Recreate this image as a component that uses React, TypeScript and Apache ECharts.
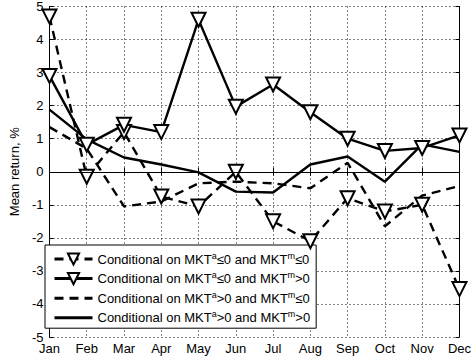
import React, { useEffect, useRef } from "react";
import * as echarts from "echarts";

const months = ["Jan", "Feb", "Mar", "Apr", "May", "Jun", "Jul", "Aug", "Sep", "Oct", "Nov", "Dec"];

// Conditional on MKT^a<=0 and MKT^m<=0 (dashed, triangles)
const aNegMNeg = [4.7, -0.15, 1.2, -0.75, -1.05, 0.0, -1.5, -2.1, -0.8, -1.2, -1.0, -3.55];
// Conditional on MKT^a<=0 and MKT^m>0 (solid, triangles)
const aNegMPos = [2.9, 0.82, 1.42, 1.2, 4.6, 1.97, 2.64, 1.8, 1.0, 0.63, 0.72, 1.1];
// Conditional on MKT^a>0 and MKT^m<=0 (dashed)
const aPosMNeg = [1.35, 0.7, -1.05, -0.9, -0.35, -0.3, -0.35, -0.5, 0.27, -1.65, -0.72, -0.43];
// Conditional on MKT^a>0 and MKT^m>0 (solid)
const aPosMPos = [1.88, 0.98, 0.43, 0.22, -0.02, -0.6, -0.63, 0.22, 0.46, -0.3, 0.83, 0.6];

const seriesKeys = ["s1", "s2", "s3", "s4"];
const legendLabels: Record<string, [string, string]> = {
  s1: ["≤0", "≤0"],
  s2: ["≤0", ">0"],
  s3: [">0", "≤0"],
  s4: [">0", ">0"],
};

export default function App() {
  const ref = useRef<HTMLDivElement>(null);
  useEffect(() => {
    if (!ref.current) return;
    const chart = echarts.init(ref.current, null, { renderer: "svg" });
    const font = "'Liberation Sans', Arial, sans-serif";
    const dash = [9, 6];
    const markerStyle = { color: "#fff", borderColor: "#000", borderWidth: 2 };
    const mk = (key: string, data: number[], dashed: boolean, marker: boolean) => ({
      name: key,
      type: "line",
      data,
      xAxisIndex: 0,
      yAxisIndex: 0,
      symbol: marker ? "triangle" : "none",
      symbolRotate: 180,
      symbolSize: 14,
      showSymbol: marker,
      itemStyle: marker ? markerStyle : { color: "#000" },
      lineStyle: { color: "#000", width: 2.4, type: dashed ? dash : "solid" },
      z: marker ? 4 : 3,
    });
    chart.setOption({
      animation: false,
      backgroundColor: "#fff",
      textStyle: { fontFamily: font, color: "#000" },
      grid: { left: 40, right: 12, top: 6, bottom: 21, containLabel: false },
      xAxis: [
        {
          type: "category",
          data: months,
          boundaryGap: false,
          position: "bottom",
          axisLine: { show: true, lineStyle: { color: "#000", width: 1 } },
          axisTick: { show: true, inside: true, length: 4, lineStyle: { color: "#000" } },
          axisLabel: { color: "#000", fontSize: 13, fontFamily: font, margin: 5 },
          splitLine: { show: true, lineStyle: { color: "#000", type: [1, 3], width: 1 } },
        },
        {
          type: "category",
          data: months,
          boundaryGap: false,
          position: "top",
          axisLine: { show: true, lineStyle: { color: "#000", width: 1 } },
          axisTick: { show: true, inside: true, length: 4, lineStyle: { color: "#000" } },
          axisLabel: { show: false },
          splitLine: { show: false },
        },
      ],
      yAxis: [
        {
          type: "value",
          min: -5,
          max: 5,
          interval: 1,
          position: "left",
          name: "Mean return, %",
          nameLocation: "middle",
          nameGap: 26,
          nameTextStyle: { color: "#000", fontSize: 13, fontFamily: font },
          axisLine: { show: true, onZero: false, lineStyle: { color: "#000", width: 1 } },
          axisTick: { show: true, inside: true, length: 4, lineStyle: { color: "#000" } },
          axisLabel: { color: "#000", fontSize: 13, fontFamily: font, margin: 6 },
          splitLine: { show: true, lineStyle: { color: "#000", type: [1, 3], width: 1 } },
        },
        {
          type: "value",
          min: -5,
          max: 5,
          interval: 1,
          position: "right",
          axisLine: { show: true, onZero: false, lineStyle: { color: "#000", width: 1 } },
          axisTick: { show: true, inside: true, length: 4, lineStyle: { color: "#000" } },
          axisLabel: { show: false },
          splitLine: { show: false },
        },
      ],
      legend: {
        orient: "vertical",
        left: 45,
        top: 245,
        padding: [6, 6, 4, 8],
        itemGap: 5,
        itemWidth: 38,
        itemHeight: 14,
        backgroundColor: "#fff",
        borderColor: "#000",
        borderWidth: 1,
        borderRadius: 0,
        lineStyle: { width: 3 },
        data: [
          { name: "s1" },
          { name: "s2" },
          { name: "s3", itemStyle: { opacity: 0 } },
          { name: "s4", itemStyle: { opacity: 0 } },
        ],
        formatter: (name: string) => {
          const [a, m] = legendLabels[name];
          return `{n|Conditional on MKT}{s|a}{n|${a} and MKT}{s|m}{n|${m}}`;
        },
        textStyle: {
          color: "#000",
          fontFamily: font,
          fontSize: 13,
          rich: {
            n: { fontSize: 13, fontFamily: font, color: "#000" },
            s: { fontSize: 9, fontFamily: font, color: "#000", padding: [0, 0, 7, 0] },
          },
        },
      },
      series: [
        mk(seriesKeys[0], aNegMNeg, true, true),
        mk(seriesKeys[1], aNegMPos, false, true),
        mk(seriesKeys[2], aPosMNeg, true, false),
        {
          ...mk(seriesKeys[3], aPosMPos, false, false),
          markLine: {
            silent: true,
            symbol: "none",
            label: { show: false },
            lineStyle: { color: "#000", width: 1, type: "solid" },
            data: [{ yAxis: 0 }],
          },
        },
      ],
    });
    return () => chart.dispose();
  }, []);
  return (
    <div
      ref={ref}
      style={{ position: "fixed", left: 0, top: 0, width: 474, height: 358 }}
    />
  );
}
